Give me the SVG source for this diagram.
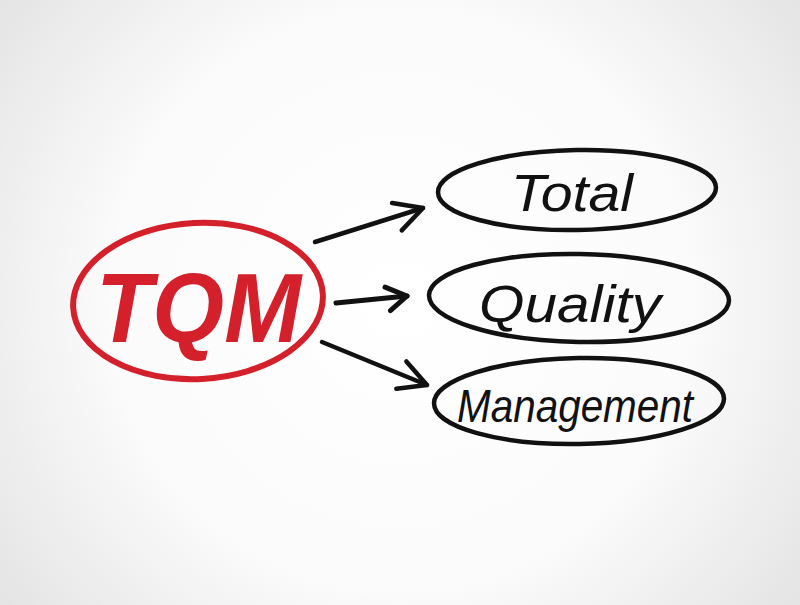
<svg xmlns="http://www.w3.org/2000/svg" width="800" height="605" viewBox="0 0 800 605">
  <defs>
    <radialGradient id="bg" cx="400" cy="300" r="520" gradientUnits="userSpaceOnUse">
      <stop offset="0" stop-color="#ffffff"/>
      <stop offset="0.55" stop-color="#fbfbfb"/>
      <stop offset="1" stop-color="#e2e2e2"/>
    </radialGradient>
    <marker id="head" markerUnits="userSpaceOnUse" markerWidth="40" markerHeight="40" refX="0" refY="0" orient="auto" overflow="visible">
      <path d="M-28,-14 L0,0 L-27,15" fill="none" stroke="#111" stroke-width="4.5" stroke-linecap="round" stroke-linejoin="round"/>
    </marker>
    <marker id="headS" markerUnits="userSpaceOnUse" markerWidth="40" markerHeight="40" refX="0" refY="0" orient="auto" overflow="visible">
      <path d="M-21,-11 L0,0 L-18,13" fill="none" stroke="#111" stroke-width="5" stroke-linecap="round" stroke-linejoin="round"/>
    </marker>
  </defs>
  <style>
    .ov { fill: none; stroke: #111; stroke-width: 4.5; }
    .lbl { font-family: "Liberation Sans", "DejaVu Sans", sans-serif; font-size: 52px; fill: #111; font-style: italic; }
    .conn { fill: none; stroke: #111; stroke-width: 4.5; stroke-linecap: round; marker-end: url(#head); }
  </style>
  <rect x="0" y="0" width="800" height="605" fill="url(#bg)"/>

  <g id="tqm">
    <ellipse cx="198" cy="301" rx="125" ry="78" transform="rotate(-3 198 301)" fill="none" stroke="#d4202b" stroke-width="6"/>
    <text x="96" y="342" textLength="205" lengthAdjust="spacingAndGlyphs" font-family="Liberation Sans, DejaVu Sans, sans-serif" font-size="98" font-weight="bold" font-style="italic" fill="#d4202b">TQM</text>
  </g>

  <g id="total">
    <ellipse class="ov" cx="577" cy="190" rx="139" ry="40" transform="rotate(-1 577 190)"/>
    <text class="lbl" x="511" y="211" textLength="122" lengthAdjust="spacingAndGlyphs">Total</text>
  </g>

  <g id="quality">
    <ellipse class="ov" cx="579" cy="298" rx="150" ry="44" transform="rotate(1 579 298)"/>
    <text class="lbl" x="479" y="322" textLength="182" lengthAdjust="spacingAndGlyphs">Quality</text>
  </g>

  <g id="management">
    <ellipse class="ov" cx="579" cy="401" rx="145" ry="43" transform="rotate(-1 579 401)"/>
    <text class="lbl" x="457" y="422" font-size="46" textLength="236" lengthAdjust="spacingAndGlyphs" style="font-size:46px">Management</text>
  </g>

  <g id="connectors">
    <path class="conn" d="M315,242 L423,208"/>
    <path class="conn" d="M336,303 L407,296" style="stroke-width:5;marker-end:url(#headS)"/>
    <path class="conn" d="M322,342 L427,385"/>
  </g>
</svg>
